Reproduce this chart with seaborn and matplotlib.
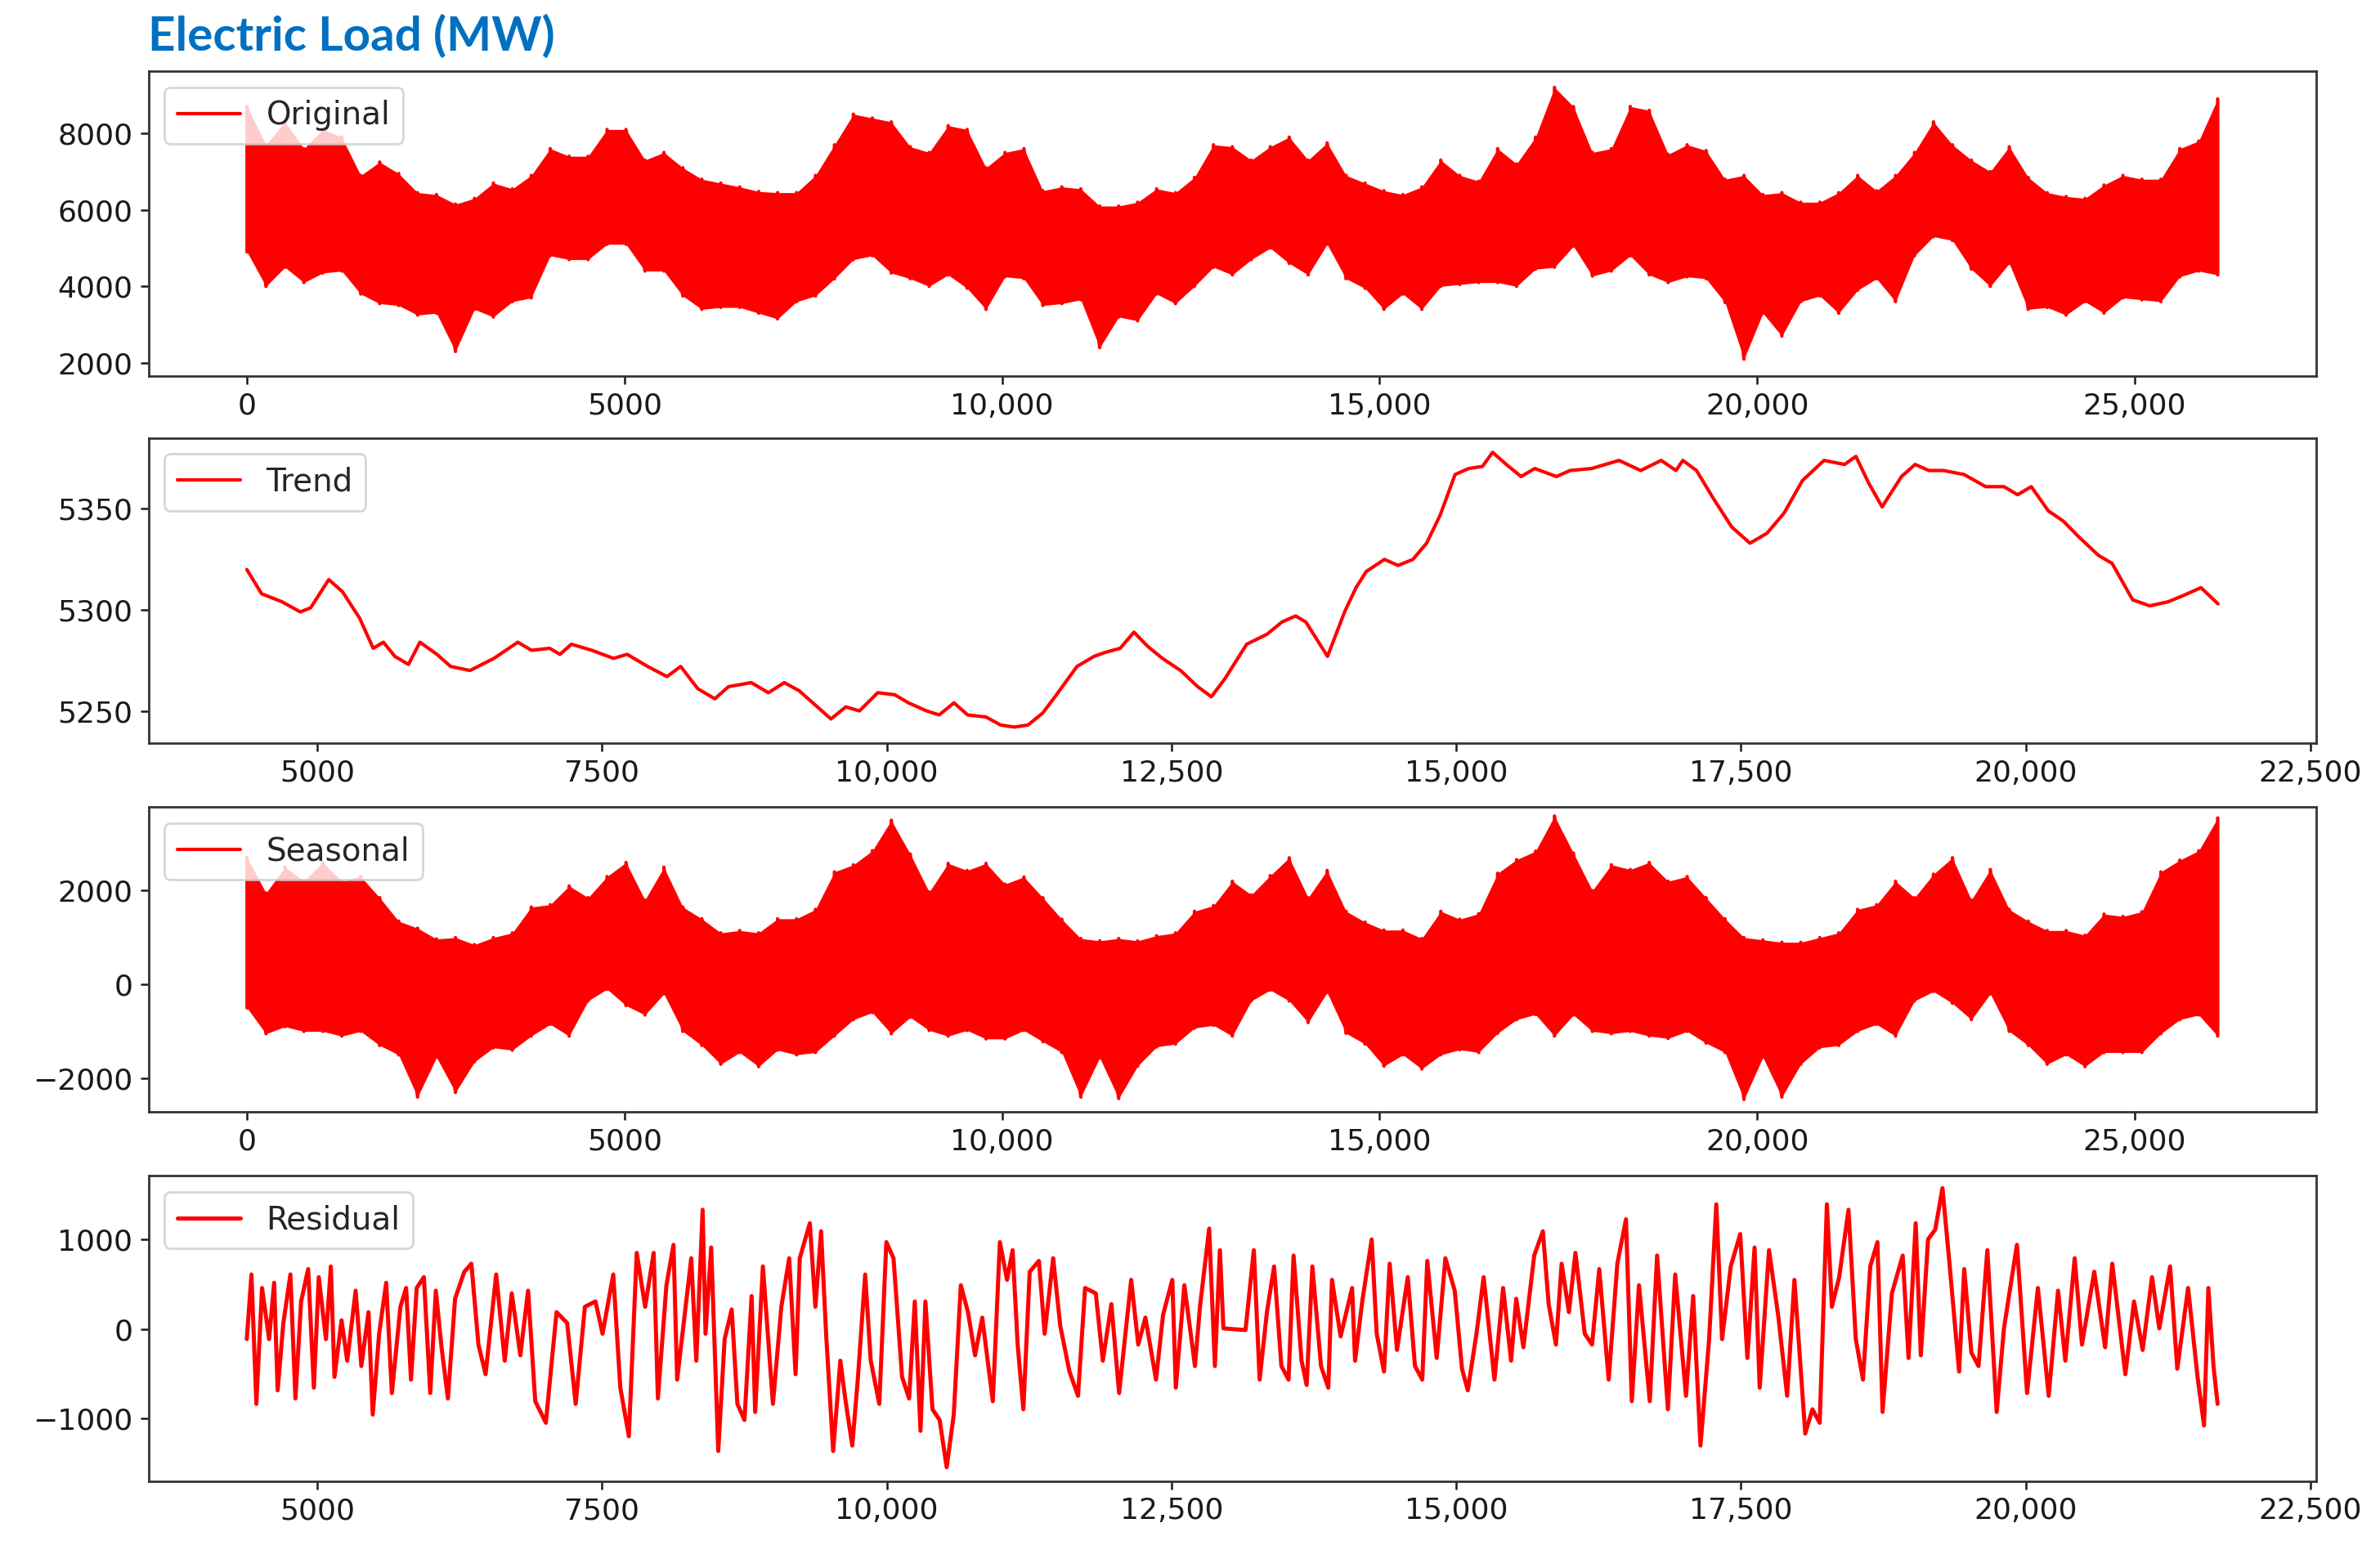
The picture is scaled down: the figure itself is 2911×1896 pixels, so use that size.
# Electric load decomposition: original / trend / seasonal / residual
import numpy as np
import pandas as pd
import seaborn as sns
import matplotlib
matplotlib.use("Agg")
import matplotlib.pyplot as plt
from matplotlib.ticker import MultipleLocator, FuncFormatter

# ------------------------------------------------------------
# data
# ------------------------------------------------------------

# hourly index of the full series, one reading every ~250 h
T_FULL = np.linspace(0, 26100, 105)

# upper / lower edge of the hourly load band (MW)
ORIG_HI = [8700, 7700, 8300, 7600, 8100, 7900, 6900, 7250, 6950, 6450,
           6400, 6150, 6300, 6700, 6550, 6900, 7600, 7400, 7400, 8100,
           8100, 7300, 7500, 7100, 6800, 6700, 6600, 6480, 6450, 6450,
           6900, 7700, 8500, 8400, 8300, 7650, 7500, 8200, 8100, 7100,
           7500, 7600, 6500, 6600, 6550, 6100, 6100, 6200, 6550, 6450,
           6850, 7700, 7650, 7300, 7650, 7900, 7300, 7750, 6900, 6700,
           6500, 6400, 6600, 7300, 6900, 6750, 7600, 7200, 7900, 9200,
           8700, 7500, 7600, 8700, 8600, 7450, 7700, 7550, 6800, 6900,
           6400, 6450, 6200, 6200, 6450, 6900, 6500, 6900, 7500, 8300,
           7700, 7300, 7000, 7650, 6850, 6450, 6350, 6300, 6650, 6900,
           6800, 6800, 7600, 7800, 8900]
ORIG_LO = [4900, 4000, 4500, 4100, 4350, 4400, 3800, 3550, 3500, 3250,
           3300, 2300, 3400, 3200, 3600, 3700, 4800, 4700, 4700, 5100,
           5100, 4400, 4400, 3750, 3400, 3450, 3450, 3300, 3150, 3600,
           3750, 4200, 4700, 4800, 4350, 4200, 4000, 4300, 3950, 3400,
           4250, 4200, 3500, 3550, 3650, 2400, 3200, 3100, 3800, 3550,
           4000, 4500, 4300, 4700, 5000, 4600, 4300, 5100, 4200, 3950,
           3400, 3800, 3400, 4000, 4050, 4100, 4100, 4000, 4450, 4500,
           5050, 4270, 4400, 4800, 4300, 4100, 4250, 4200, 3580, 2100,
           3300, 2700, 3600, 3750, 3300, 3900, 4200, 3600, 4800, 5300,
           5200, 4450, 4000, 4600, 3400, 3450, 3250, 3600, 3300, 3700,
           3650, 3600, 4250, 4400, 4300]

# upper / lower edge of the seasonal band (same index as above)
SEAS_HI = [2700, 1950, 2500, 2200, 2600, 2200, 2300, 1850, 1350, 1200,
           970, 1000, 850, 1000, 1100, 1650, 1700, 2100, 1850, 2300,
           2600, 1800, 2500, 1650, 1400, 1100, 1150, 1100, 1400, 1400,
           1600, 2400, 2550, 2850, 3500,
           2780, 1970, 2580, 2430, 2580, 2140, 2290, 1850, 1390, 980,
           930, 980, 930, 1040, 1100, 1560, 1680, 2200, 1910, 2320,
           2700, 1850, 2430, 1560, 1330, 1160, 1160, 980, 1560, 1390,
           1510, 2370, 2660, 2840, 3590,
           2800, 2000, 2550, 2450, 2600, 2200, 2300, 1850, 1400, 1000,
           950, 900, 900, 1000, 1100, 1600, 1700, 2200, 1850, 2350,
           2700, 1800, 2450, 1600, 1350, 1150, 1150, 1050, 1500, 1450,
           1550, 2400, 2650, 2850, 3550]
SEAS_LO = [-500, -1050, -900, -1000, -1000, -1100, -1000, -1300, -1500, -2400,
           -1550, -2300, -1650, -1350, -1400, -1100, -850, -1100, -350, -100,
           -450, -650, -200, -1000, -1300, -1700, -1450, -1750, -1400, -1500,
           -1450, -1100, -750, -600, -1050,
           -700, -980, -1100, -980, -1160, -1160, -980, -1220, -1450, -2400,
           -1560, -2430, -1740, -1330, -1270, -930, -870, -1100, -350, -120,
           -350, -810, -170, -1040, -1270, -1740, -1500, -1800, -1500, -1390,
           -1450, -1040, -750, -640, -1100,
           -650, -1000, -1050, -1000, -1100, -1150, -1000, -1250, -1450, -2450,
           -1550, -2400, -1700, -1350, -1300, -1000, -850, -1100, -350, -150,
           -400, -750, -200, -1000, -1300, -1700, -1500, -1750, -1450, -1450,
           -1450, -1050, -750, -650, -1100]

# trend (centred yearly moving average)
TREND_T = [4380, 4510, 4690, 4850, 4940, 5100, 5220, 5370, 5490, 5580,
           5680, 5800, 5900, 6050, 6170, 6340, 6550, 6760, 6880, 7040,
           7130, 7230, 7410, 7600, 7720, 7900, 8070, 8190, 8340, 8490,
           8610, 8810, 8960, 9100, 9230, 9350, 9510, 9640, 9760, 9920,
           10070, 10190, 10350, 10460, 10590, 10710, 10870, 11000, 11120, 11240,
           11370, 11490, 11670, 11820, 11920, 12050, 12170, 12290, 12420, 12580,
           12730, 12850, 12970, 13160, 13340, 13470, 13590, 13680, 13870, 14020,
           14120, 14210, 14370, 14490, 14620, 14740, 14860, 14990, 15110, 15230,
           15320, 15440, 15570, 15690, 15880, 16000, 16190, 16430, 16620, 16800,
           16930, 16990, 17110, 17260, 17420, 17580, 17730, 17880, 18040, 18230,
           18410, 18510, 18620, 18740, 18910, 19030, 19150, 19280, 19460, 19650,
           19810, 19930, 20050, 20200, 20330, 20470, 20640, 20760, 20940, 21090,
           21250, 21380, 21540, 21690]
TREND_V = [5320, 5308, 5304, 5299, 5301, 5315, 5309, 5296, 5281, 5284,
           5277, 5273, 5284, 5278, 5272, 5270, 5276, 5284, 5280, 5281,
           5278, 5283, 5280, 5276, 5278, 5272, 5267, 5272, 5261, 5256,
           5262, 5264, 5259, 5264, 5260, 5254, 5246, 5252, 5250, 5259,
           5258, 5254, 5250, 5248, 5254, 5248, 5247, 5243, 5242, 5243,
           5249, 5258, 5272, 5277, 5279, 5281, 5289, 5282, 5276, 5270,
           5262, 5257, 5266, 5283, 5288, 5294, 5297, 5294, 5277, 5299,
           5311, 5319, 5325, 5322, 5325, 5333, 5347, 5367, 5370, 5371,
           5378, 5372, 5366, 5370, 5366, 5369, 5370, 5374, 5369, 5374,
           5369, 5374, 5369, 5355, 5341, 5333, 5338, 5348, 5364, 5374,
           5372, 5376, 5363, 5351, 5366, 5372, 5369, 5369, 5367, 5361,
           5361, 5357, 5361, 5349, 5344, 5336, 5327, 5323, 5305, 5302,
           5304, 5307, 5311, 5303]

# residual (peaks and troughs in order)
RESID_T = [4380, 4421, 4464, 4514, 4576, 4620, 4651, 4701, 4763, 4807,
           4857, 4919, 4969, 5012, 5075, 5118, 5150, 5212, 5262, 5336,
           5386, 5449, 5486, 5542, 5604, 5654, 5729, 5779, 5822, 5872,
           5935, 5991, 6040, 6090, 6146, 6209, 6290, 6352, 6414, 6477,
           6570, 6645, 6707, 6782, 6850, 6913, 7006, 7100, 7193, 7268,
           7349, 7442, 7504, 7598, 7660, 7735, 7804, 7878, 7953, 7990,
           8065, 8127, 8159, 8233, 8283, 8327, 8383, 8408, 8458, 8520,
           8576, 8638, 8688, 8750, 8813, 8844, 8912, 9000, 9074, 9143,
           9199, 9236, 9324, 9373, 9423, 9467, 9529, 9592, 9635, 9697,
           9747, 9810, 9859, 9934, 9996, 10059, 10134, 10196, 10246, 10296,
           10339, 10401, 10464, 10526, 10588, 10650, 10713, 10775, 10838, 10931,
           10993, 11056, 11105, 11149, 11199, 11255, 11336, 11386, 11461, 11523,
           11604, 11679, 11741, 11835, 11897, 11972, 12040, 12146, 12208, 12271,
           12364, 12426, 12507, 12538, 12613, 12706, 12750, 12831, 12881, 12925,
           12956, 13150, 13223, 13274, 13338, 13401, 13465, 13528, 13572, 13642,
           13687, 13737, 13813, 13877, 13909, 13985, 14086, 14112, 14175, 14258,
           14302, 14366, 14416, 14480, 14575, 14638, 14702, 14746, 14829, 14905,
           14987, 15051, 15102, 15178, 15241, 15336, 15412, 15482, 15527, 15590,
           15685, 15761, 15812, 15876, 15926, 15990, 16047, 16129, 16193, 16256,
           16339, 16415, 16491, 16542, 16605, 16700, 16764, 16859, 16923, 17018,
           17081, 17145, 17221, 17284, 17335, 17411, 17494, 17557, 17620, 17665,
           17747, 17830, 17906, 17970, 18065, 18128, 18192, 18255, 18299, 18363,
           18445, 18509, 18572, 18636, 18699, 18744, 18826, 18921, 18972, 19035,
           19080, 19143, 19207, 19270, 19334, 19416, 19461, 19524, 19587, 19664,
           19746, 19810, 19924, 20013, 20108, 20203, 20285, 20349, 20431, 20495,
           20603, 20698, 20761, 20876, 20952, 21028, 21110, 21174, 21269, 21332,
           21427, 21510, 21567, 21605, 21650, 21686]
RESID_V = [-110, 611, -834, 460, -111, 518, -683, 69, 611, -774,
           310, 671, -653, 581, -111, 701, -533, 99, -352, 430,
           -412, 190, -954, -51, 518, -713, 250, 460, -563, 460,
           581, -713, 430, -202, -774, 340, 641, 731, -172, -503,
           611, -352, 400, -292, 430, -804, -1045, 190, 69, -834,
           250, 310, -51, 611, -653, -1195, 852, 250, 852, -774,
           491, 942, -563, 250, 792, -352, 1333, -51, 912, -1360,
           -111, 220, -834, -1014, 370, -924, 701, -834, 250, 792,
           -503, 792, 1183, 250, 1093, -51, -1360, -352, -774, -1300,
           -533, 611, -352, -834, 972, 792, -533, -774, 310, -1135,
           310, -894, -1014, -1541, -954, 491, 190, -292, 129, -804,
           972, 551, 882, -172, -894, 641, 762, -51, 792, 39,
           -473, -744, 460, 400, -352, 280, -713, 551, -172, 129,
           -563, 160, 551, -653, 491, -412, 250, 1123, -412, 882,
           9, -10, 882, -563, 190, 701, -412, -563, 822, -352,
           -623, 701, -412, -653, 551, -81, 460, -352, 310, 1002,
           -51, -473, 731, -232, 581, -412, -563, 762, -322, 792,
           430, -442, -683, -51, 581, -563, 460, -352, 340, -202,
           822, 1093, 280, -172, 731, 190, 852, -51, -172, 671,
           -563, 731, 1228, -804, 491, -804, 822, -894, 611, -744,
           370, -1300, -111, 1394, -111, 701, 1062, -322, 912, -653,
           882, 129, -744, 551, -1165, -894, -1045, 1394, 250, 581,
           1333, -111, -563, 701, 972, -924, 400, 822, -322, 1183,
           -292, 1002, 1113, 1574, 701, -473, 671, -262, -412, 882,
           -924, 9, 942, -713, 460, -744, 430, -352, 792, -172,
           641, -202, 731, -503, 310, -232, 581, 9, 701, -442,
           460, -533, -1075, 460, -412, -834]

# ------------------------------------------------------------
# style
# ------------------------------------------------------------
sns.set_theme(style="ticks")
plt.rcParams["font.family"] = ["DejaVu Sans"]
plt.rcParams["axes.edgecolor"] = "#333333"
plt.rcParams["axes.linewidth"] = 1.0

RED = "#ff0000"
LW = 1.5


def fmt_tick(v, pos):
    s = f"{v:,.0f}" if abs(v) >= 10000 else f"{v:.0f}"
    return s.replace("-", "\u2212")


fig = plt.figure(figsize=(14.555, 9.48), dpi=200)

left, width, height = 0.0624, 0.9108, 0.1968
bottoms = [0.7572, 0.5205, 0.2825, 0.0445]
axes = [fig.add_axes([left, b, width, height]) for b in bottoms]


def band_series(lo, hi):
    # the hourly curve swings between daily lows and highs
    x = np.repeat(T_FULL, 2)
    y = np.column_stack([lo, hi]).ravel()
    return pd.DataFrame({"t": x, "v": y})


# 1. Original
ax = axes[0]
ax.fill_between(T_FULL, ORIG_LO, ORIG_HI, color=RED, lw=0)
sns.lineplot(data=band_series(ORIG_LO, ORIG_HI), x="t", y="v", ax=ax,
             color=RED, lw=LW, estimator=None, sort=False, label="Original")
ax.set_xlim(-1305, 27405)
ax.set_ylim(1650, 9620)
ax.xaxis.set_major_locator(MultipleLocator(5000))
ax.yaxis.set_major_locator(MultipleLocator(2000))

# 2. Trend
ax = axes[1]
sns.lineplot(x=TREND_T, y=TREND_V, ax=ax, color=RED, lw=LW,
             estimator=None, sort=False, label="Trend")
ax.set_xlim(3517, 22552)
ax.set_ylim(5234, 5385)
ax.xaxis.set_major_locator(MultipleLocator(2500))
ax.yaxis.set_major_locator(MultipleLocator(50))

# 3. Seasonal
ax = axes[2]
ax.fill_between(T_FULL, SEAS_LO, SEAS_HI, color=RED, lw=0)
sns.lineplot(data=band_series(SEAS_LO, SEAS_HI), x="t", y="v", ax=ax,
             color=RED, lw=LW, estimator=None, sort=False, label="Seasonal")
ax.set_xlim(-1305, 27405)
ax.set_ylim(-2720, 3780)
ax.xaxis.set_major_locator(MultipleLocator(5000))
ax.yaxis.set_major_locator(MultipleLocator(2000))

# 4. Residual
ax = axes[3]
sns.lineplot(x=RESID_T, y=RESID_V, ax=ax, color=RED, lw=1.8,
             estimator=None, sort=False, label="Residual")
ax.set_xlim(3517, 22552)
ax.set_ylim(-1695, 1710)
ax.xaxis.set_major_locator(MultipleLocator(2500))
ax.yaxis.set_major_locator(MultipleLocator(1000))

for ax in axes:
    ax.set_xlabel("")
    ax.set_ylabel("")
    ax.xaxis.set_major_formatter(FuncFormatter(fmt_tick))
    ax.yaxis.set_major_formatter(FuncFormatter(fmt_tick))
    ax.tick_params(labelsize=13, length=3.5, width=0.9,
                   colors="#1a1a1a", direction="out")
    for sp in ax.spines.values():
        sp.set_visible(True)
        sp.set_color("#333333")
        sp.set_linewidth(1.0)
    leg = ax.legend(loc="upper left", fontsize=14, frameon=True,
                    fancybox=True, framealpha=0.8, edgecolor="#cccccc",
                    borderaxespad=0.5, handlelength=2.0)

fig.text(0.0622, 0.9675, "Electric Load (MW)", color="#0070C0",
         fontsize=21, fontweight="bold", family=["Lato", "DejaVu Sans"],
         ha="left", va="baseline")

fig.savefig("out.png", dpi=200)
